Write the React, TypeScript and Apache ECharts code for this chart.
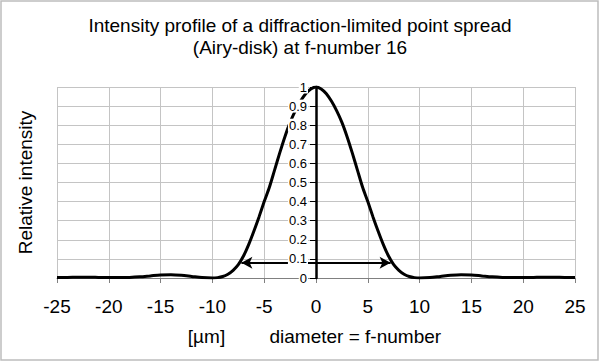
import React, { useEffect, useRef } from 'react';
import * as echarts from 'echarts';

const TITLE_LINES = ['Intensity profile of a diffraction-limited point spread', '(Airy-disk) at f-number 16'];
const Y_NAME = 'Relative intensity';
const X_UNIT = '[µm]';
const X_NOTE = 'diameter = f-number';

const POSITION_UM = [
  -25, -24, -23, -22, -21, -20, -19, -18, -17, -16, -15, -14, -13, -12, -11, -10,
  -9.5, -9, -8.5, -8, -7.5, -7, -6.5, -6, -5.5, -5, -4.5, -4, -3.5, -3, -2.5, -2, -1.5, -1, -0.5,
  0,
  0.5, 1, 1.5, 2, 2.5, 3, 3.5, 4, 4.5, 5, 5.5, 6, 6.5, 7, 7.5, 8, 8.5, 9, 9.5,
  10, 11, 12, 13, 14, 15, 16, 17, 18, 19, 20, 21, 22, 23, 24, 25,
];
const INTENSITY = [
  0.003, 0.003, 0.004, 0.004, 0.003, 0.002, 0.002, 0.003, 0.006, 0.011, 0.016, 0.017, 0.014, 0.008, 0.002, 0,
  0.002, 0.008, 0.02, 0.04, 0.07, 0.115, 0.175, 0.245, 0.32, 0.4, 0.475, 0.565, 0.655, 0.74, 0.815, 0.875, 0.925, 0.965, 0.99,
  1,
  0.99, 0.965, 0.925, 0.875, 0.815, 0.74, 0.655, 0.565, 0.475, 0.4, 0.32, 0.245, 0.175, 0.115, 0.07, 0.04, 0.02, 0.008, 0.002,
  0, 0.002, 0.008, 0.014, 0.017, 0.016, 0.011, 0.006, 0.003, 0.002, 0.002, 0.003, 0.004, 0.004, 0.003, 0.003,
];
const ARROW_X = [-7.2, 7.2];
const ARROW_Y = 0.08;
const X_MIN = -25;
const X_MAX = 25;
const X_STEP = 5;
const Y_MIN = 0;
const Y_MAX = 1;
const Y_STEP = 0.1;

const FONT = '"Liberation Sans", Arial, sans-serif';
const GRID_LEFT = 57;
const GRID_RIGHT = 25;
const CHART_W = 600;

export default function App() {
  const ref = useRef<HTMLDivElement>(null);
  useEffect(() => {
    if (!ref.current) return;
    const chart = echarts.init(ref.current, undefined, { renderer: 'svg' });
    const data = POSITION_UM.map((x, i) => [x, INTENSITY[i]]);
    const plotW = CHART_W - GRID_LEFT - GRID_RIGHT;
    const zeroOffset = -plotW * ((0 - X_MIN) / (X_MAX - X_MIN));
    chart.setOption({
      animation: false,
      backgroundColor: '#ffffff',
      textStyle: { fontFamily: FONT },
      title: {
        text: TITLE_LINES.join('\n'),
        left: 'center',
        top: 14,
        padding: 0,
        textStyle: { fontFamily: FONT, fontSize: 19, fontWeight: 'normal', color: '#000', lineHeight: 22.5 },
      },
      grid: { left: GRID_LEFT, right: GRID_RIGHT, top: 87, bottom: 84, containLabel: false },
      xAxis: {
        type: 'value',
        min: X_MIN,
        max: X_MAX,
        interval: X_STEP,
        axisLine: { onZero: false, lineStyle: { color: '#808080', width: 1 } },
        axisTick: { show: true, inside: false, length: 5, lineStyle: { color: '#808080' } },
        axisLabel: { fontFamily: FONT, fontSize: 19, color: '#000', margin: 19 },
        splitLine: { show: true, lineStyle: { color: '#c4c4c4', width: 1 } },
      },
      yAxis: [
        {
          type: 'value',
          min: Y_MIN,
          max: Y_MAX,
          interval: Y_STEP,
          z: 0,
          axisLine: { show: false, onZero: false },
          axisTick: { show: false },
          axisLabel: { show: false },
          splitLine: { show: true, lineStyle: { color: '#c4c4c4', width: 1 } },
        },
        {
          type: 'value',
          min: Y_MIN,
          max: Y_MAX,
          interval: Y_STEP,
          z: 5,
          position: 'left',
          offset: zeroOffset,
          axisLine: { show: true, onZero: false, lineStyle: { color: '#000', width: 2.5 } },
          axisTick: { show: true, inside: false, length: 6, lineStyle: { color: '#000', width: 1 } },
          axisLabel: {
            fontFamily: FONT,
            fontSize: 13,
            color: '#000',
            margin: 8,
            backgroundColor: '#fff',
            padding: [0, 1, 0, 1],
          },
          splitLine: { show: false },
        },
      ],
      series: [
        {
          type: 'line',
          data,
          yAxisIndex: 0,
          smooth: 0.3,
          showSymbol: false,
          symbol: 'none',
          lineStyle: { color: '#000', width: 3 },
          z: 2,
          markLine: {
            silent: true,
            symbol: ['arrow', 'arrow'],
            symbolSize: [9, 11],
            label: { show: false },
            lineStyle: { color: '#000', width: 2, type: 'solid' },
            data: [[{ coord: [ARROW_X[0], ARROW_Y] }, { coord: [ARROW_X[1], ARROW_Y] }]],
          },
        },
      ],
      graphic: [
        {
          type: 'rect',
          shape: { x: 1, y: 1, width: 597, height: 359 },
          style: { fill: 'none', stroke: '#bdbdbd', lineWidth: 1.5 },
          silent: true,
        },
        {
          type: 'text',
          x: 25.5,
          y: 182.5,
          rotation: Math.PI / 2,
          style: {
            text: Y_NAME,
            fontFamily: FONT,
            fontSize: 19,
            fill: '#000',
            textAlign: 'center',
            textVerticalAlign: 'middle',
            align: 'center',
            verticalAlign: 'middle',
          },
        },
        {
          type: 'text',
          x: 206.5,
          y: 336.5,
          style: {
            text: X_UNIT,
            fontFamily: FONT,
            fontSize: 19,
            fill: '#000',
            textAlign: 'center',
            textVerticalAlign: 'middle',
            align: 'center',
            verticalAlign: 'middle',
          },
        },
        {
          type: 'text',
          x: 269.5,
          y: 336.5,
          style: {
            text: X_NOTE,
            fontFamily: FONT,
            fontSize: 19,
            fill: '#000',
            textAlign: 'left',
            textVerticalAlign: 'middle',
            align: 'left',
            verticalAlign: 'middle',
          },
        },
      ],
    });
    return () => chart.dispose();
  }, []);
  return (
    <div
      ref={ref}
      style={{ position: 'fixed', left: 0, top: 0, width: 600, height: 362 }}
    />
  );
}
